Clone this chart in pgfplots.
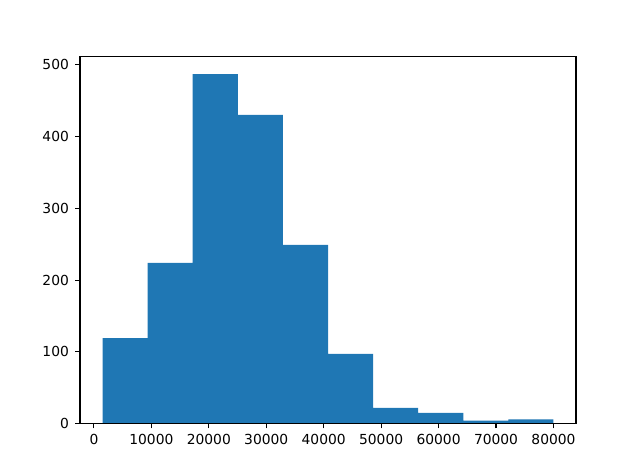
\documentclass[border=0pt]{standalone}
\usepackage{pgfplots}
\pgfplotsset{compat=1.18}
\usepackage{fontspec}
\setmainfont{DejaVu Sans}
\definecolor{mplblue}{HTML}{1F77B4}
\begin{document}
\begin{tikzpicture}[x=1in,y=1in]
\path[use as bounding box] (0,0) rectangle (6.4,4.76);
\begin{axis}[
  at={(0.8in,0.524in)}, anchor=south west,
  scale only axis, width=4.96in, height=3.67in,
  xmin=-2425, xmax=83925, ymin=0, ymax=511.35,
  xtick={0,10000,20000,30000,40000,50000,60000,70000,80000},
  ytick={0,100,200,300,400,500},
  scaled x ticks=false, scaled y ticks=false,
  /pgf/number format/1000 sep={},
  /pgf/number format/assume math mode=true,
  axis on top,
  tick align=outside, tick pos=left,
  major tick length=3.5pt,
  every tick/.style={black, line width=0.8pt},
  axis line style={line width=0.8pt},
  tick label style={font=\fontsize{10}{12}\selectfont, black},
  xticklabel style={yshift=-1pt},
  yticklabel style={xshift=-1pt},
]
\addplot[ybar interval, fill=mplblue, draw=none] coordinates {
(1500,119) (9350,224) (17200,487) (25050,430) (32900,249) (40750,97) (48600,22) (56450,15) (64300,4) (72150,6) (80000,6)
};
\end{axis}
\end{tikzpicture}
\end{document}
